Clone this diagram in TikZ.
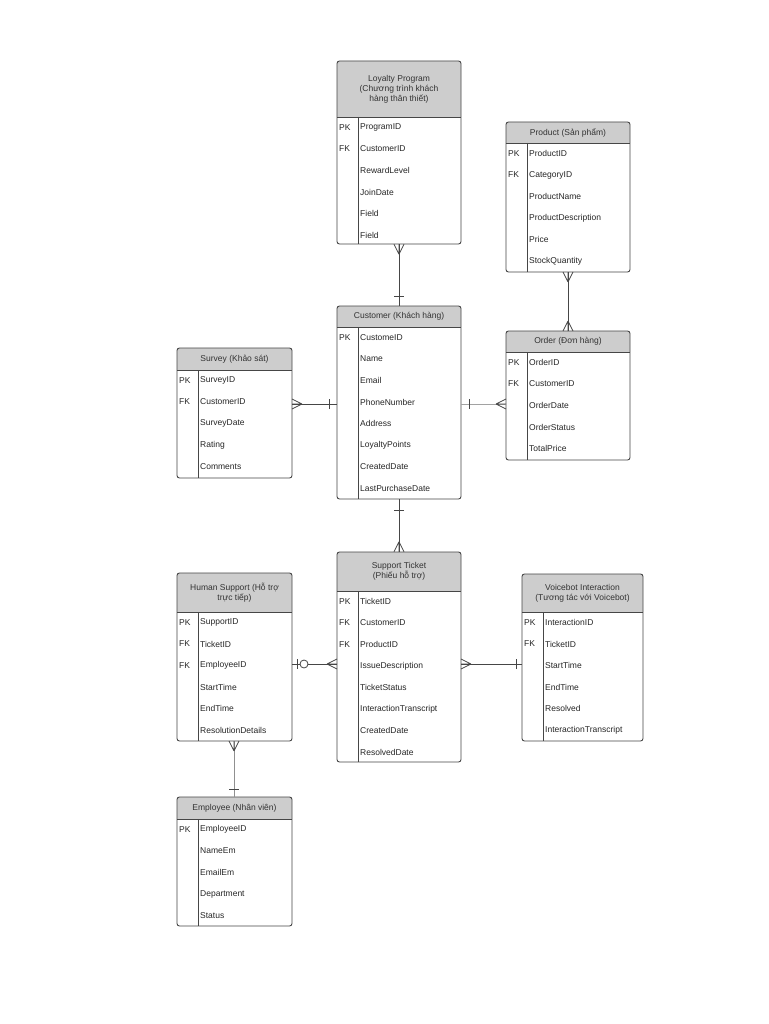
\documentclass[tikz,border=0pt]{standalone}
\usepackage{fontspec}
\setmainfont{Liberation Sans}
\definecolor{hdrgray}{RGB}{205,205,205}
\definecolor{linkgray}{RGB}{70,70,70}

% table: name, left, top, right, header bottom, bottom, header text, rows
\newcommand{\ertable}[8]{%
  \path[fill=hdrgray] (#2,#5) [rounded corners=2.5pt] -- (#2,#3) -- (#4,#3) [sharp corners] -- (#4,#5) -- cycle;
  \draw[tabline] (#2,#5) -- (#4,#5);
  \draw[tabline] ({#2+21},#5) -- ({#2+21},#6);
  \draw[tabline, rounded corners=2.5pt] (#2,#3) rectangle (#4,#6);
  \node[inner sep=0pt, minimum width={(#4-#2)*1pt}, minimum height={(#6-#3)*1pt}] (#1) at ({(#2+#4)/2},{(#3+#6)/2}) {};
  \node[headtext] at ({(#2+#4)/2},{(#3+#5)/2}) {#7};
  \foreach \k/\f [count=\i from 0] in {#8} {
    \node[rowtext] at ({#2+2},{#5+10.5+21.5*\i}) {\k};
    \node[rowtext] at ({#2+23},{#5+10.5+21.5*\i}) {\f};
  }
}
% crow's foot at an edge point, pointing outward along angle
\newcommand{\crowfoot}[2]{%
  \begin{scope}[shift={#1}, rotate=#2]
    \draw[link] (10,0) -- (0,5) (10,0) -- (0,-5) (10,0) -- (0,0);
  \end{scope}
}
\newcommand{\onebar}[3]{%
  \begin{scope}[shift={#1}, rotate=#2]
    \draw[link] (#3,-5) -- (#3,5);
  \end{scope}
}

\begin{document}
\begin{tikzpicture}[x=1pt, y=-1pt,
    tabline/.style={draw=linkgray, line width=0.9pt},
    link/.style={draw=linkgray, line width=0.8pt},
    headtext/.style={font=\fontsize{8.5}{10}\selectfont, text=black!80, align=center, inner sep=0pt},
    rowtext/.style={font=\fontsize{8.5}{10}\selectfont, text=black!85, anchor=west, inner sep=0pt}]
  \useasboundingbox (0,0) rectangle (768,1024);
  \fill[white] (0,0) rectangle (768,1024);

  % Tables
  \ertable{loyalty}{337}{61}{461}{117}{244}{Loyalty Program\\(Chương trình khách\\hàng thân thiết)}%
    {PK/ProgramID, FK/CustomerID, /RewardLevel, /JoinDate, /Field, /Field}
  \ertable{product}{506}{122}{630}{143}{272}{Product (Sản phẩm)}%
    {PK/ProductID, FK/CategoryID, /ProductName, /ProductDescription, /Price, /StockQuantity}
  \ertable{customer}{337}{306}{461}{327}{499}{Customer (Khách hàng)}%
    {PK/CustomeID, /Name, /Email, /PhoneNumber, /Address, /LoyaltyPoints, /CreatedDate, /LastPurchaseDate}
  \ertable{survey}{177}{348}{292}{370}{478}{Survey (Khảo sát)}%
    {PK/SurveyID, FK/CustomerID, /SurveyDate, /Rating, /Comments}
  \ertable{order}{506}{331}{630}{352}{460}{Order (Đơn hàng)}%
    {PK/OrderID, FK/CustomerID, /OrderDate, /OrderStatus, /TotalPrice}
  \ertable{ticket}{337}{552}{461}{591}{762}{Support Ticket\\(Phiếu hỗ trợ)}%
    {PK/TicketID, FK/CustomerID, FK/ProductID, /IssueDescription, /TicketStatus, /InteractionTranscript, /CreatedDate, /ResolvedDate}
  \ertable{human}{177}{573}{292}{612}{741}{Human Support (Hỗ trợ\\trực tiếp)}%
    {PK/SupportID, FK/TicketID, FK/EmployeeID, /StartTime, /EndTime, /ResolutionDetails}
  \ertable{voicebot}{522}{574}{643}{612}{741}{Voicebot Interaction\\(Tương tác với Voicebot)}%
    {PK/InteractionID, FK/TicketID, /StartTime, /EndTime, /Resolved, /InteractionTranscript}
  \ertable{employee}{177}{797}{292}{819}{926}{Employee (Nhân viên)}%
    {PK/EmployeeID, /NameEm, /EmailEm, /Department, /Status}

  % Relationships
  \draw[link] (loyalty.south) -- (customer.north);
  \crowfoot{(loyalty.south)}{270}
  \onebar{(customer.north)}{90}{9}

  \draw[link] (product.south -| 568,0) -- (order.north -| 568,0);
  \crowfoot{(568,272)}{270}
  \crowfoot{(568,331)}{90}

  \draw[link] (survey.east |- 0,404) -- (customer.west |- 0,404);
  \crowfoot{(292,404)}{0}
  \onebar{(337,404)}{180}{8}

  \draw[link, draw=linkgray!50] (customer.east |- 0,404) -- (order.west |- 0,404);
  \onebar{(461,404)}{0}{8}
  \crowfoot{(506,404)}{180}

  \draw[link] (customer.south) -- (ticket.north);
  \onebar{(customer.south)}{270}{11}
  \crowfoot{(ticket.north)}{90}

  \draw[link] (human.east |- 0,664) -- (ticket.west |- 0,664);
  \onebar{(292,664)}{0}{5}
  \draw[link, fill=white] (304,664) circle (4);
  \crowfoot{(337,664)}{180}

  \draw[link] (ticket.east |- 0,664) -- (voicebot.west |- 0,664);
  \crowfoot{(461,664)}{0}
  \onebar{(522,664)}{180}{6}

  \draw[link, draw=linkgray!60] (human.south -| 234,0) -- (employee.north -| 234,0);
  \crowfoot{(234,741)}{270}
  \onebar{(234,797)}{90}{8}
\end{tikzpicture}
\end{document}
